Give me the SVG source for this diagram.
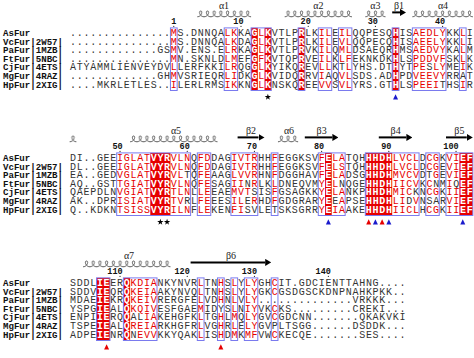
<svg xmlns="http://www.w3.org/2000/svg" width="474" height="358" viewBox="0 0 474 358">
<style>
.sq{font-family:"Liberation Mono",monospace;font-size:10px;letter-spacing:0.72px;fill:#333}
.r{fill:#e60000}
.w{fill:#fff;font-weight:bold}
.nm{font-family:"Liberation Mono",monospace;font-weight:bold;font-size:9.1px;fill:#111}
.num{font-family:"Liberation Mono",monospace;font-weight:bold;font-size:8.5px;fill:#111;text-anchor:end}
.lb{font-family:"Liberation Serif",serif;font-size:10px;fill:#222;text-anchor:middle}
.fl{fill:#e60000}
.bx{fill:none;stroke:#7a7aee;stroke-width:1}
.coil{fill:url(#coil)}
.arr{stroke:#000;stroke-width:2;marker-end:url(#ah)}
.dot{fill:#111}
.tb{fill:#1a1acc}
.tr{fill:#e60000}
</style>
<defs>
<pattern id="coil" patternUnits="userSpaceOnUse" x="69.64" y="0" width="6.72" height="125">
<path d="M0,16.8 C4.2,16.8 5.8,11 3.4,11 C1,11 2.6,16.8 6.72,16.8" fill="none" stroke="#333" stroke-width="0.8"/>
</pattern>
<marker id="ah" markerUnits="userSpaceOnUse" markerWidth="6" markerHeight="7" refX="0" refY="3.5" orient="auto">
<path d="M0,0 L6,3.5 L0,7 Z" fill="#000"/>
</marker>
<path id="tri" d="M0,-2.8 L2.5,2.4 L-2.5,2.4 Z"/>
<path id="star" d="M0,-3.3 L0.76,-1.05 L3.14,-1.02 L1.24,0.4 L1.94,2.67 L0,1.3 L-1.94,2.67 L-1.24,0.4 L-3.14,-1.02 L-0.76,-1.05 Z"/>
</defs>
<rect width="474" height="358" fill="#fff"/>

<g id="block1">
<g id="b1-header">
<text class="lb" x="224" y="8.6">α1</text>
<text class="lb" x="318.3" y="8.6">α2</text>
<text class="lb" x="375.4" y="8.6">α3</text>
<text class="lb" x="399" y="8.6">β1</text>
<text class="lb" x="443" y="8.6">α4</text>
<rect class="coil" x="197.32" y="10" width="53.76" height="8"/>
<rect class="coil" x="284.68" y="10" width="67.2" height="8"/>
<rect class="coil" x="365.32" y="10" width="20.16" height="8"/>
<rect class="coil" x="412.36" y="10" width="60.48" height="8"/>
<line class="arr" x1="392.2" y1="12.4" x2="400" y2="12.4"/>
<text class="num" x="176.35" y="23.9">1</text>
<text class="num" x="243.55" y="23.9">10</text>
<text class="num" x="310.75" y="23.9">20</text>
<text class="num" x="377.95" y="23.9">30</text>
<text class="num" x="445.15" y="23.9">40</text>
<circle class="dot" cx="173.8" cy="26.3" r="0.6"/>
<circle class="dot" cx="241" cy="26.3" r="0.6"/>
<circle class="dot" cx="308.2" cy="26.3" r="0.6"/>
<circle class="dot" cx="375.4" cy="26.3" r="0.6"/>
<circle class="dot" cx="442.6" cy="26.3" r="0.6"/>
</g>
<g id="b1-fills">
<rect class="fl" x="251.08" y="27.9" width="6.72" height="62.6"/>
<rect class="fl" x="264.52" y="27.9" width="6.72" height="62.6"/>
<rect class="fl" x="298.12" y="27.9" width="6.72" height="62.6"/>
<rect class="fl" x="392.2" y="27.9" width="6.72" height="62.6"/>
</g>
<g id="b1-boxes">
<rect class="bx" x="170.44" y="27.9" width="6.72" height="62.6"/>
<rect class="bx" x="224.2" y="27.9" width="13.44" height="62.6"/>
<rect class="bx" x="251.08" y="27.9" width="20.16" height="62.6"/>
<rect class="bx" x="298.12" y="27.9" width="6.72" height="62.6"/>
<rect class="bx" x="318.28" y="27.9" width="13.44" height="62.6"/>
<rect class="bx" x="338.44" y="27.9" width="13.44" height="62.6"/>
<rect class="bx" x="392.2" y="27.9" width="6.72" height="62.6"/>
<rect class="bx" x="412.36" y="27.9" width="33.6" height="62.6"/>
<rect class="bx" x="459.4" y="27.9" width="6.72" height="62.6"/>
</g>
<g id="b1-names">
<text class="nm" x="3" y="35.9">AsFur</text>
<text class="nm" x="3" y="44.5">VcFur|2W57|</text>
<text class="nm" x="3" y="53.1">PaFur|1MZB|</text>
<text class="nm" x="3" y="61.7">FtFur|5NBC|</text>
<text class="nm" x="3" y="70.3">CjFur|4ETS|</text>
<text class="nm" x="3" y="78.9">MgFur|4RAZ|</text>
<text class="nm" x="3" y="87.5">HpFur|2XIG|</text>
</g>
<g id="b1-seq">
<text class="sq" x="70" y="35.9">...............<tspan class="r">M</tspan>S.DNNQA<tspan class="r">LK</tspan>KA<tspan class="w">G</tspan><tspan class="r">L</tspan><tspan class="w">K</tspan>VTLP<tspan class="w">R</tspan>LK<tspan class="r">IL</tspan>E<tspan class="r">IL</tspan>QQPESQ<tspan class="w">H</tspan>IS<tspan class="r">AEDLY</tspan>KK<tspan class="r">L</tspan>I</text>
<text class="sq" x="70" y="44.5">...............<tspan class="r">M</tspan>S.DNNQA<tspan class="r">LK</tspan>DA<tspan class="w">G</tspan><tspan class="r">L</tspan><tspan class="w">K</tspan>VTLP<tspan class="w">R</tspan>LK<tspan class="r">IL</tspan>E<tspan class="r">VL</tspan>QQPECQ<tspan class="w">H</tspan>IS<tspan class="r">AEELY</tspan>KK<tspan class="r">L</tspan>I</text>
<text class="sq" x="70" y="53.1">.............GS<tspan class="r">M</tspan>V.ENS.E<tspan class="r">LR</tspan>KA<tspan class="w">G</tspan><tspan class="r">L</tspan><tspan class="w">K</tspan>VTLP<tspan class="w">R</tspan>VK<tspan class="r">IL</tspan>Q<tspan class="r">ML</tspan>DSAEQR<tspan class="w">H</tspan>MS<tspan class="r">AEDVY</tspan>KA<tspan class="r">L</tspan>M</text>
<text class="sq" x="70" y="61.7">...............<tspan class="r">M</tspan>N.SKNLD<tspan class="r">LM</tspan>EF<tspan class="w">G</tspan><tspan class="r">F</tspan><tspan class="w">K</tspan>VTQP<tspan class="w">R</tspan>VE<tspan class="r">IL</tspan>K<tspan class="r">LF</tspan>EKNKDK<tspan class="w">H</tspan>LS<tspan class="r">PDDVF</tspan>SK<tspan class="r">L</tspan>K</text>
<text class="sq" x="70" y="70.3">ATYAMMLIENVEYDV<tspan class="r">L</tspan>LERFKKI<tspan class="r">LR</tspan>QG<tspan class="w">G</tspan><tspan class="r">L</tspan><tspan class="w">K</tspan>YIKQ<tspan class="w">R</tspan>EV<tspan class="r">LL</tspan>KT<tspan class="r">L</tspan>YHS.DT<tspan class="w">H</tspan>YT<tspan class="r">PE</tspan>S<tspan class="r">LY</tspan>ME<tspan class="r">I</tspan>K</text>
<text class="sq" x="70" y="78.9">.............GH<tspan class="r">M</tspan>VSRIEQR<tspan class="r">LI</tspan>DK<tspan class="w">G</tspan><tspan class="r">L</tspan><tspan class="w">K</tspan>VIDQ<tspan class="w">R</tspan>RV<tspan class="r">I</tspan>AQ<tspan class="r">VL</tspan>SDS.AD<tspan class="w">H</tspan>PD<tspan class="r">VEEVY</tspan>RRAT</text>
<text class="sq" x="70" y="87.5">....MKRLETLES..<tspan class="r">I</tspan>LERLRMS<tspan class="r">IK</tspan>KN<tspan class="w">G</tspan><tspan class="r">L</tspan><tspan class="w">K</tspan>NSKQ<tspan class="w">R</tspan>EE<tspan class="r">VV</tspan>S<tspan class="r">VL</tspan>YRS.GT<tspan class="w">H</tspan>LS<tspan class="r">PEEI</tspan>THS<tspan class="r">I</tspan>R</text>
</g>
<g id="b1-marks">
<use href="#star" x="267.88" y="97"/>
<use href="#tri" class="tb" x="395.56" y="97"/>
</g>
</g>

<g id="block2">
<g id="b2-header">
<text class="lb" x="176" y="133.6">α5</text>
<text class="lb" x="251" y="133.6">β2</text>
<text class="lb" x="289" y="133.6">α6</text>
<text class="lb" x="321.6" y="133.6">β3</text>
<text class="lb" x="395.6" y="133.6">β4</text>
<text class="lb" x="459.4" y="133.6">β5</text>
<rect class="coil" x="69.64" y="135" width="6.72" height="8"/>
<rect class="coil" x="130.12" y="135" width="87.36" height="8"/>
<rect class="coil" x="277.96" y="135" width="20.16" height="8"/>
<line class="arr" x1="237.6" y1="137.4" x2="258.5" y2="137.4"/>
<line class="arr" x1="304.8" y1="137.4" x2="332.4" y2="137.4"/>
<line class="arr" x1="378.8" y1="137.4" x2="406.4" y2="137.4"/>
<line class="arr" x1="446" y1="137.4" x2="466.8" y2="137.4"/>
<text class="num" x="122.6" y="148.9">50</text>
<text class="num" x="189.8" y="148.9">60</text>
<text class="num" x="257" y="148.9">70</text>
<text class="num" x="324.2" y="148.9">80</text>
<text class="num" x="391.4" y="148.9">90</text>
<text class="num" x="458.6" y="148.9">100</text>
<circle class="dot" cx="120.04" cy="151.3" r="0.6"/>
<circle class="dot" cx="187.24" cy="151.3" r="0.6"/>
<circle class="dot" cx="254.44" cy="151.3" r="0.6"/>
<circle class="dot" cx="321.64" cy="151.3" r="0.6"/>
<circle class="dot" cx="388.84" cy="151.3" r="0.6"/>
<circle class="dot" cx="456.04" cy="151.3" r="0.6"/>
</g>
<g id="b2-fills">
<rect class="fl" x="150.28" y="152.9" width="20.16" height="62.6"/>
<rect class="fl" x="325" y="152.9" width="6.72" height="62.6"/>
<rect class="fl" x="365.32" y="152.9" width="26.88" height="62.6"/>
<rect class="fl" x="459.4" y="152.9" width="13.44" height="62.6"/>
</g>
<g id="b2-boxes">
<rect class="bx" x="116.68" y="152.9" width="73.92" height="62.6"/>
<rect class="bx" x="197.32" y="152.9" width="13.44" height="62.6"/>
<rect class="bx" x="230.92" y="152.9" width="26.88" height="62.6"/>
<rect class="bx" x="271.24" y="152.9" width="6.72" height="62.6"/>
<rect class="bx" x="318.28" y="152.9" width="26.88" height="62.6"/>
<rect class="bx" x="365.32" y="152.9" width="53.76" height="62.6"/>
<rect class="bx" x="425.8" y="152.9" width="13.44" height="62.6"/>
<rect class="bx" x="445.96" y="152.9" width="26.88" height="62.6"/>
</g>
<g id="b2-names">
<text class="nm" x="3" y="160.9">AsFur</text>
<text class="nm" x="3" y="169.5">VcFur|2W57|</text>
<text class="nm" x="3" y="178.1">PaFur|1MZB|</text>
<text class="nm" x="3" y="186.7">FtFur|5NBC|</text>
<text class="nm" x="3" y="195.3">CjFur|4ETS|</text>
<text class="nm" x="3" y="203.9">MgFur|4RAZ|</text>
<text class="nm" x="3" y="212.5">HpFur|2XIG|</text>
</g>
<g id="b2-seq">
<text class="sq" x="70" y="160.9">DI..GEE<tspan class="r">IGLAT</tspan><tspan class="w">VYR</tspan><tspan class="r">VLN</tspan>Q<tspan class="r">FD</tspan>DAG<tspan class="r">IVTR</tspan>HH<tspan class="r">F</tspan>EGGKSV<tspan class="r">F</tspan><tspan class="w">E</tspan><tspan class="r">LA</tspan>TQH<tspan class="w">HHDH</tspan><tspan class="r">LVCL</tspan>D<tspan class="r">CG</tspan>K<tspan class="r">VI</tspan><tspan class="w">EF</tspan></text>
<text class="sq" x="70" y="169.5">DL..GEE<tspan class="r">IGLAT</tspan><tspan class="w">VYR</tspan><tspan class="r">VLN</tspan>Q<tspan class="r">FD</tspan>DAG<tspan class="r">IVTR</tspan>HH<tspan class="r">F</tspan>EGGKSV<tspan class="r">F</tspan><tspan class="w">E</tspan><tspan class="r">LS</tspan>TQH<tspan class="w">HHDH</tspan><tspan class="r">LVCL</tspan>D<tspan class="r">CG</tspan>E<tspan class="r">VI</tspan><tspan class="w">EF</tspan></text>
<text class="sq" x="70" y="178.1">EA..GED<tspan class="r">VGLAT</tspan><tspan class="w">VYR</tspan><tspan class="r">VL</tspan>TQ<tspan class="r">FE</tspan>AAG<tspan class="r">LVVR</tspan>HN<tspan class="r">F</tspan>DGGHAV<tspan class="r">F</tspan><tspan class="w">E</tspan><tspan class="r">LA</tspan>DSG<tspan class="w">HHDH</tspan><tspan class="r">MVCV</tspan>DT<tspan class="r">G</tspan>E<tspan class="r">VI</tspan><tspan class="w">EF</tspan></text>
<text class="sq" x="70" y="186.7">AQ..GST<tspan class="r">TGIAT</tspan><tspan class="w">VYR</tspan><tspan class="r">VLN</tspan>Q<tspan class="r">FE</tspan>SAG<tspan class="r">II</tspan>N<tspan class="r">R</tspan>LK<tspan class="r">L</tspan>DNEQVM<tspan class="r">Y</tspan><tspan class="w">E</tspan><tspan class="r">L</tspan>NQGE<tspan class="w">HHDH</tspan><tspan class="r">IICV</tspan>K<tspan class="r">C</tspan>NM<tspan class="r">I</tspan>Q<tspan class="w">EF</tspan></text>
<text class="sq" x="70" y="195.3">QAEPDLN<tspan class="r">VGIAT</tspan><tspan class="w">VYR</tspan><tspan class="r">TLN</tspan>L<tspan class="r">LE</tspan>EAE<tspan class="r">MVT</tspan>SIS<tspan class="r">F</tspan>GSAGKK<tspan class="r">Y</tspan><tspan class="w">E</tspan><tspan class="r">LA</tspan>NKP<tspan class="w">HHDH</tspan><tspan class="r">MIC</tspan>KN<tspan class="r">CG</tspan>K<tspan class="r">II</tspan><tspan class="w">EF</tspan></text>
<text class="sq" x="70" y="203.9">AK..DPR<tspan class="r">ISIAT</tspan><tspan class="w">VYR</tspan><tspan class="r">TV</tspan>RL<tspan class="r">FE</tspan>EES<tspan class="r">IL</tspan>E<tspan class="r">R</tspan>HD<tspan class="r">F</tspan>GDGRAR<tspan class="r">Y</tspan><tspan class="w">E</tspan>E<tspan class="r">A</tspan>PSE<tspan class="w">HHDH</tspan><tspan class="r">LI</tspan>D<tspan class="r">V</tspan>NSAR<tspan class="r">VI</tspan><tspan class="w">EF</tspan></text>
<text class="sq" x="70" y="212.5">Q..KDKN<tspan class="r">TSISS</tspan><tspan class="w">VYR</tspan><tspan class="r">ILN</tspan>F<tspan class="r">LE</tspan>KEN<tspan class="r">FI</tspan>SVLETSKSGRR<tspan class="r">Y</tspan><tspan class="w">E</tspan><tspan class="r">IA</tspan>AKE<tspan class="w">HHDH</tspan><tspan class="r">IICL</tspan>H<tspan class="r">CG</tspan>K<tspan class="r">II</tspan><tspan class="w">EF</tspan></text>
</g>
<g id="b2-marks">
<use href="#star" x="160.36" y="222"/>
<use href="#star" x="167.08" y="222"/>
<use href="#tri" class="tb" x="328.36" y="222"/>
<use href="#tri" class="tr" x="368.68" y="222"/>
<use href="#tri" class="tb" x="375.4" y="222"/>
<use href="#tri" class="tr" x="382.12" y="222"/>
<use href="#tri" class="tb" x="388.84" y="222"/>
<use href="#tri" class="tb" x="462.76" y="222"/>
</g>
</g>

<g id="block3">
<g id="b3-header">
<text class="lb" x="129" y="258.6">α7</text>
<text class="lb" x="231" y="258.6">β6</text>
<rect class="coil" x="83.08" y="260" width="87.36" height="8"/>
<line class="arr" x1="190.6" y1="262.4" x2="265.2" y2="262.4"/>
<text class="num" x="122.6" y="273.9">110</text>
<text class="num" x="189.8" y="273.9">120</text>
<text class="num" x="257" y="273.9">130</text>
<text class="num" x="330.9" y="273.9">140</text>
<circle class="dot" cx="120.04" cy="276.3" r="0.6"/>
<circle class="dot" cx="187.24" cy="276.3" r="0.6"/>
<circle class="dot" cx="254.44" cy="276.3" r="0.6"/>
<circle class="dot" cx="328.36" cy="276.3" r="0.6"/>
</g>
<g id="b3-fills">
<rect class="fl" x="96.52" y="277.9" width="13.44" height="62.6"/>
<rect class="fl" x="123.4" y="277.9" width="6.72" height="62.6"/>
</g>
<g id="b3-boxes">
<rect class="bx" x="96.52" y="277.9" width="13.44" height="62.6"/>
<rect class="bx" x="123.4" y="277.9" width="33.6" height="62.6"/>
<rect class="bx" x="197.32" y="277.9" width="6.72" height="62.6"/>
<rect class="bx" x="217.48" y="277.9" width="6.72" height="62.6"/>
<rect class="bx" x="230.92" y="277.9" width="6.72" height="62.6"/>
<rect class="bx" x="244.36" y="277.9" width="13.44" height="62.6"/>
<rect class="bx" x="271.24" y="277.9" width="6.72" height="62.6"/>
</g>
<g id="b3-names">
<text class="nm" x="3" y="285.9">AsFur</text>
<text class="nm" x="3" y="294.5">VcFur|2W57|</text>
<text class="nm" x="3" y="303.1">PaFur|1MZB|</text>
<text class="nm" x="3" y="311.7">FtFur|5NBC|</text>
<text class="nm" x="3" y="320.3">CjFur|4ETS|</text>
<text class="nm" x="3" y="328.9">MgFur|4RAZ|</text>
<text class="nm" x="3" y="337.5">HpFur|2XIG|</text>
</g>
<g id="b3-seq">
<text class="sq" x="70" y="285.9">SDDL<tspan class="w">IE</tspan>ER<tspan class="w">Q</tspan><tspan class="r">KDIA</tspan>NKYNVR<tspan class="r">L</tspan>TN<tspan class="r">H</tspan>S<tspan class="r">L</tspan>Y<tspan class="r">LY</tspan>GH<tspan class="r">C</tspan>IT.GDCIENTTAHNG....</text>
<text class="sq" x="70" y="294.5">SDDV<tspan class="w">IE</tspan>QR<tspan class="w">Q</tspan><tspan class="r">KEIA</tspan>AKYNVQ<tspan class="r">L</tspan>TN<tspan class="r">H</tspan>S<tspan class="r">L</tspan>Y<tspan class="r">LY</tspan>GK<tspan class="r">C</tspan>GSDGSCKDNPNAHKPKK..</text>
<text class="sq" x="70" y="303.1">MDAE<tspan class="w">IE</tspan>KR<tspan class="w">Q</tspan><tspan class="r">KEIV</tspan>RERGFE<tspan class="r">L</tspan>VD<tspan class="r">H</tspan>N<tspan class="r">L</tspan>V<tspan class="r">LY</tspan>..............VRKKK...</text>
<text class="sq" x="70" y="311.7">YSPG<tspan class="w">IE</tspan>AL<tspan class="w">Q</tspan><tspan class="r">KQIV</tspan>ESFGAE<tspan class="r">M</tspan>IDYS<tspan class="r">L</tspan>N<tspan class="r">IY</tspan>VK<tspan class="r">C</tspan>KS.........CREKI...</text>
<text class="sq" x="70" y="320.3">ENPI<tspan class="w">IE</tspan>RQ<tspan class="w">Q</tspan>AL<tspan class="r">IA</tspan>KEHGFK<tspan class="r">L</tspan>TG<tspan class="r">H</tspan>L<tspan class="r">M</tspan>Q<tspan class="r">LY</tspan>GV<tspan class="r">C</tspan>GDCNN.......QKAKVKI</text>
<text class="sq" x="70" y="328.9">TSPE<tspan class="w">IE</tspan>AL<tspan class="w">Q</tspan><tspan class="r">REIA</tspan>RKHGFR<tspan class="r">L</tspan>VG<tspan class="r">H</tspan>R<tspan class="r">L</tspan>E<tspan class="r">LY</tspan>GVPLTSGG......DSDDK...</text>
<text class="sq" x="70" y="337.5">ADPE<tspan class="w">IE</tspan>NR<tspan class="w">Q</tspan>N<tspan class="r">EVV</tspan>KKYQAK<tspan class="r">L</tspan>IS<tspan class="r">H</tspan>D<tspan class="r">M</tspan>K<tspan class="r">MF</tspan>VW<tspan class="r">C</tspan>KECQE.......SES....</text>
</g>
<g id="b3-marks">
<use href="#tri" class="tr" x="106.6" y="347"/>
<use href="#tri" class="tr" x="220.84" y="347"/>
</g>
</g>
</svg>
